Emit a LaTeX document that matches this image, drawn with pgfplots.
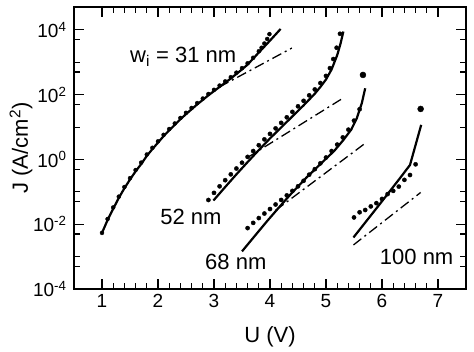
\documentclass[border=0pt]{standalone}
\usepackage{fontspec}
\setmainfont{Liberation Sans}
\usepackage{pgfplots}
\pgfplotsset{compat=1.18}
\begin{document}
\begin{tikzpicture}
\path[use as bounding box] (-74pt,-63pt) rectangle (400pt,289pt);
\begin{axis}[
  at={(0pt,0pt)}, anchor=south west,
  scale only axis, width=392pt, height=282pt,
  xmin=0.5, xmax=7.5, ymode=log, ymin=1e-4, ymax=5.1e4,
  xtick={1,2,3,4,5,6,7}, minor x tick num=4,
  ytick={1e-4,1e-2,1,1e2,1e4},
  yticklabels={10\textsuperscript{-4},10\textsuperscript{-2},10\textsuperscript{0},10\textsuperscript{2},10\textsuperscript{4}},
  minor ytick={5e-4,1e-3,5e-3,5e-2,1e-1,5e-1,1e1,5e1,5e2,1e3,5e3},
  /pgf/number format/assume math mode=true,
  axis line style={line width=1.6pt},
  tick style={line width=1.1pt, black},
  major tick length=10pt, minor tick length=6pt,
  tick label style={font=\fontsize{19}{21}\selectfont},
  yticklabel style={xshift=-4pt},
  xticklabel style={yshift=-2pt},
  xlabel={U (V)}, ylabel={J (A/cm\textsuperscript{2})},
  label style={font=\fontsize{22}{24}\selectfont},
  xlabel style={at={(axis description cs:0.5,-0.170)}, anchor=center},
  ylabel style={at={(axis description cs:-0.135,0.5)}, anchor=center},
  clip=false,
]
% ---- 31 nm ----
\addplot[only marks, mark=*, mark size=2pt, black] coordinates {
 (1.0,5.4e-3) (1.1,1.45e-2) (1.2,3.3e-2) (1.3,7.1e-2) (1.4,0.141) (1.5,0.265)
 (1.6,0.47) (1.7,0.80) (1.8,1.42) (1.9,2.29) (2.0,3.63) (2.1,5.75) (2.2,8.71)
 (2.3,12.9) (2.4,19.1) (2.5,27.5) (2.6,38.9) (2.7,55.0) (2.8,75.9) (2.9,105)
 (3.0,141) (3.1,191) (3.2,257) (3.3,347) (3.4,479) (3.5,661) (3.6,933)
 (3.7,1380) (3.8,2188) (3.85,2818) (3.9,3802) (3.95,5248) (3.99,7413)};
\addplot[line width=2.2pt, black] coordinates {
 (1.0,5.4e-3) (1.1,1.35e-2) (1.2,3.0e-2) (1.3,6.5e-2) (1.4,0.129) (1.5,0.24)
 (1.6,0.43) (1.7,0.72) (1.8,1.29) (1.9,2.09) (2.0,3.31) (2.1,5.25) (2.2,7.94)
 (2.3,11.7) (2.4,17.4) (2.5,25.1) (2.6,35.5) (2.7,50.1) (2.8,69.2) (2.9,95.5)
 (3.0,129) (3.1,174) (3.2,234) (3.3,316) (3.4,437) (3.5,603) (3.6,851)
 (3.8,2000) (4.0,4677) (4.19,10715)};
\addplot[line width=1.3pt, black, dash pattern=on 10pt off 4pt on 2pt off 4pt] coordinates {
 (3.1,174) (4.39,2754)};
% ---- 52 nm ----
\addplot[only marks, mark=*, mark size=2.1pt, black] coordinates {
 (2.9,0.056) (3.0,0.093) (3.1,0.148) (3.2,0.229) (3.3,0.347) (3.4,0.525)
 (3.5,0.794) (3.6,1.20) (3.7,1.82) (3.8,2.75) (3.9,4.17) (4.0,6.17) (4.1,9.12)
 (4.2,13.5) (4.3,20.0) (4.4,29.5) (4.5,43.7) (4.6,64.6) (4.7,95.5) (4.8,145)
 (4.9,229) (5.0,380) (5.07,661) (5.13,1259) (5.19,2818) (5.25,7586)};
\addplot[line width=2.2pt, black] coordinates {
 (2.99,0.054) (3.2,0.141) (3.4,0.347) (3.6,0.83) (3.8,1.95) (4.0,4.47)
 (4.2,9.77) (4.4,21.4) (4.6,46.8) (4.8,107) (4.9,174) (5.0,295) (5.1,603)
 (5.2,1660) (5.26,3802) (5.31,8913)};
\addplot[line width=1.3pt, black, dash pattern=on 10pt off 4pt on 2pt off 4pt] coordinates {
 (3.6,1.15) (5.31,79.4)};
% ---- 68 nm ----
\addplot[only marks, mark=*, mark size=2.1pt, black] coordinates {
 (3.6,7.6e-3) (3.7,0.011) (3.8,0.0155) (3.9,0.0214) (4.0,0.0295) (4.1,0.0407)
 (4.2,0.0562) (4.3,0.0776) (4.4,0.107) (4.5,0.148) (4.6,0.219) (4.7,0.339)
 (4.8,0.501) (4.9,0.759) (5.0,1.15) (5.1,1.82) (5.2,2.88) (5.3,4.79)
 (5.4,8.32) (5.5,15.8) (5.6,35.5)};
\addplot[only marks, mark=*, mark size=3pt, black] coordinates {(5.66,407)};
\addplot[line width=2.2pt, black] coordinates {
 (3.5,1.45e-3) (3.7,3.8e-3) (3.94,0.012) (4.16,0.033) (4.36,0.081) (4.65,0.275)
 (4.95,0.871) (5.15,1.86) (5.31,3.98) (5.45,8.32) (5.55,18.6) (5.64,55) (5.70,158)};
\addplot[line width=1.3pt, black, dash pattern=on 10pt off 4pt on 2pt off 4pt] coordinates {
 (4.1,0.0269) (5.70,3.16)};
% ---- 100 nm ----
\addplot[only marks, mark=*, mark size=2.1pt, black] coordinates {
 (5.5,0.0162) (5.6,0.0234) (5.7,0.0275) (5.8,0.0355) (5.9,0.0447) (6.0,0.0603)
 (6.1,0.0851) (6.2,0.107) (6.3,0.145) (6.4,0.234) (6.5,0.331) (6.6,0.708)};
\addplot[only marks, mark=*, mark size=3pt, black] coordinates {(6.69,36.3)};
\addplot[line width=2.2pt, black] coordinates {
 (5.49,3.9e-3) (5.96,0.0417) (6.32,0.263) (6.5,0.676) (6.70,11.7)};
\addplot[line width=1.3pt, black, dash pattern=on 10pt off 4pt on 2pt off 4pt] coordinates {
 (5.49,2.29e-3) (6.69,0.0955)};
% ---- labels ----
\node[anchor=base west, font=\fontsize{22}{24}\selectfont, inner sep=0pt] at (axis cs:1.5,1000) {w\textsubscript{i} = 31 nm};
\node[anchor=base west, font=\fontsize{22}{24}\selectfont, inner sep=0pt] at (axis cs:2.04,0.0095) {52 nm};
\node[anchor=base west, font=\fontsize{22}{24}\selectfont, inner sep=0pt] at (axis cs:2.84,3.9e-4) {68 nm};
\node[anchor=base west, font=\fontsize{22}{24}\selectfont, inner sep=0pt] at (axis cs:5.96,5.6e-4) {100 nm};
\end{axis}
\end{tikzpicture}
\end{document}
